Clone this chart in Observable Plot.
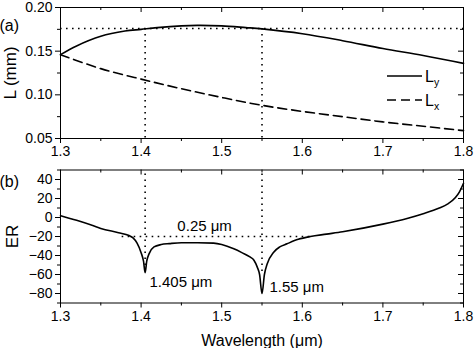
<!DOCTYPE html>
<html>
<head>
<meta charset="utf-8">
<script src="https://cdn.jsdelivr.net/npm/d3@7"></script>
<script src="https://cdn.jsdelivr.net/npm/@observablehq/plot@0.6"></script>
<style>
  html, body { margin: 0; padding: 0; background: #fff; }
  #wrap { position: relative; width: 474px; height: 348px; font-family: "Liberation Sans", Arial, sans-serif; }
  #wrap > * { position: absolute; left: 0; }
</style>
</head>
<body>
<div id="wrap"></div>
<script>
// ---- data ----
const wavelengthLy = [1.30, 1.32, 1.35, 1.38, 1.40, 1.42, 1.45, 1.47, 1.50, 1.53, 1.55, 1.60, 1.65, 1.70, 1.75, 1.80];
const Ly =           [0.146, 0.156, 0.167, 0.173, 0.175, 0.177, 0.179, 0.1795, 0.179, 0.177, 0.1755, 0.170, 0.162, 0.153, 0.145, 0.136];

const wavelengthLx = [1.30, 1.35, 1.40, 1.45, 1.50, 1.55, 1.60, 1.65, 1.70, 1.75, 1.80];
const Lx =           [0.146, 0.130, 0.118, 0.107, 0.097, 0.088, 0.081, 0.075, 0.069, 0.064, 0.059];

const wavelengthER = [1.30, 1.32, 1.34, 1.35, 1.372, 1.385, 1.39, 1.395, 1.40, 1.403, 1.405, 1.407, 1.41, 1.416, 1.425, 1.435, 1.45, 1.47, 1.49, 1.50, 1.515, 1.525, 1.535, 1.54, 1.544, 1.547, 1.550, 1.553, 1.5565, 1.5645, 1.572, 1.581, 1.595, 1.61, 1.63, 1.65, 1.70, 1.73, 1.75, 1.77, 1.78, 1.79, 1.795, 1.80];
const ER =           [2, -3, -8.5, -11.5, -16, -19, -21.5, -27, -37, -46, -58, -46, -38, -31, -28.5, -27.5, -26.5, -26.5, -27, -28.5, -33, -37, -41.5, -45, -52, -60, -80, -60, -48.7, -36.5, -31, -27.7, -23, -20, -17.5, -15, -7, -1, 4, 10, 14, 21, 27, 36];

const resonances = [1.405, 1.55];     // vertical dotted markers
const LyLevel = 0.176;                // horizontal dotted level in (a)
const erLevel = -20;                  // horizontal dotted level in (b)
const bandEdges = [1.3765, 1.611];    // 0.25 µm band at -20
const annotations = [
  {label: "0.25 \u03bcm", x: 1.445, y: -9.5},
  {label: "1.405 \u03bcm", x: 1.4104, y: -68},
  {label: "1.55 \u03bcm", x: 1.5593, y: -73.4}
];

const xMajor = [1.3, 1.4, 1.5, 1.6, 1.7, 1.8];
const xMinor = [1.35, 1.45, 1.55, 1.65, 1.75];
const yaMajor = [0.05, 0.10, 0.15, 0.20];
const yaMinor = [0.075, 0.125, 0.175];
const ybMajor = [-80, -60, -40, -20, 0, 20, 40];
const ybMinor = [-90, -70, -50, -30, -10, 10, 30, 50];

// ---- tables ----
const lyData = wavelengthLy.map((x, i) => ({x, y: Ly[i]}));
const lxData = wavelengthLx.map((x, i) => ({x, y: Lx[i]}));
const erData = wavelengthER.map((x, i) => ({x, y: ER[i]}));

const font = '"Liberation Sans", Arial, sans-serif';
const W = 474, ML = 60, MR = 11;
const PW = W - ML - MR;

// ---- panel (a) ----
const aMT = 7, aMB = 22, aH = 160, aPH = aH - aMT - aMB;
const panelA = Plot.plot({
  width: W, height: aH,
  marginLeft: ML, marginRight: MR, marginTop: aMT, marginBottom: aMB,
  style: {fontFamily: font, fontSize: "14px", color: "#000", background: "transparent", overflow: "visible"},
  x: {domain: [1.3, 1.8]},
  y: {domain: [0.05, 0.20]},
  marks: [
    Plot.axisX({ticks: xMajor, tickSize: 5, tickPadding: 3, tickFormat: d3.format(".1f"), label: null}),
    Plot.axisX({ticks: xMinor, tickSize: 3, text: null, label: null}),
    Plot.ruleX(xMajor, {x: d => d, insetBottom: aPH - 5}),
    Plot.ruleX(xMinor, {x: d => d, insetBottom: aPH - 3}),
    Plot.axisY({ticks: yaMajor, tickSize: 5, tickPadding: 3, tickFormat: d3.format(".2f"), label: null}),
    Plot.axisY({ticks: yaMinor, tickSize: 3, text: null, label: null}),
    Plot.ruleY(yaMajor, {y: d => d, insetLeft: PW - 5}),
    Plot.ruleY(yaMinor, {y: d => d, insetLeft: PW - 3}),
    Plot.ruleY([LyLevel], {y: d => d, x1: 1.3, x2: 1.8, strokeDasharray: "1.6,4.4", strokeWidth: 1.6}),
    Plot.ruleX(resonances, {x: d => d, y1: LyLevel, y2: 0.05, strokeDasharray: "1.6,4.4", strokeWidth: 1.6}),
    Plot.line(lyData, {x: "x", y: "y", curve: "catmull-rom", stroke: "#000", strokeWidth: 1.6}),
    Plot.line(lxData, {x: "x", y: "y", curve: "catmull-rom", stroke: "#000", strokeWidth: 1.6, strokeDasharray: "9,5"}),
    Plot.frame({stroke: "#000"}),
    Plot.text(["L (mm)"], {frameAnchor: "left", dx: -50, rotate: -90, textAnchor: "middle", fontSize: 17, fill: "#000"}),
    Plot.text(["(a)"], {frameAnchor: "top-left", dx: -61, dy: 18, textAnchor: "start", lineAnchor: "middle", fontSize: 16, fill: "#000"})
  ]
});
panelA.style.top = "0px";

// ---- panel (b) ----
const bTop = 160, bMT = 9.5, bMB = 45.5, bH = 188, bPH = bH - bMT - bMB;
const panelB = Plot.plot({
  width: W, height: bH,
  marginLeft: ML, marginRight: MR, marginTop: bMT, marginBottom: bMB,
  style: {fontFamily: font, fontSize: "14px", color: "#000", background: "transparent", overflow: "visible"},
  x: {domain: [1.3, 1.8]},
  y: {domain: [-90, 50]},
  marks: [
    Plot.axisX({ticks: xMajor, tickSize: 5, tickPadding: 3, tickFormat: d3.format(".1f"), label: null}),
    Plot.axisX({ticks: xMinor, tickSize: 3, text: null, label: null}),
    Plot.ruleX(xMajor, {x: d => d, insetBottom: bPH - 5}),
    Plot.ruleX(xMinor, {x: d => d, insetBottom: bPH - 3}),
    Plot.axisY({ticks: ybMajor, tickSize: 5, tickPadding: 3, tickFormat: d3.format("d"), label: null}),
    Plot.axisY({ticks: ybMinor, tickSize: 3, text: null, label: null}),
    Plot.ruleY(ybMajor, {y: d => d, insetLeft: PW - 5}),
    Plot.ruleY(ybMinor, {y: d => d, insetLeft: PW - 3}),
    Plot.ruleY([erLevel], {y: d => d, x1: bandEdges[0], x2: bandEdges[1], strokeDasharray: "1.6,4.4", strokeWidth: 1.6}),
    Plot.ruleX(resonances, {x: d => d, y1: -90, y2: 50, insetTop: -(bTop + bMT - (aH - aMB)), strokeDasharray: "1.6,4.4", strokeWidth: 1.6}),
    Plot.line(erData, {x: "x", y: "y", curve: "monotone-x", stroke: "#000", strokeWidth: 1.6}),
    Plot.frame({stroke: "#000"}),
    Plot.text(annotations, {x: "x", y: "y", text: "label", textAnchor: "start", lineAnchor: "middle", fontSize: 15, fill: "#000"}),
    Plot.text(["ER"], {frameAnchor: "left", dx: -48, rotate: -90, textAnchor: "middle", fontSize: 17, fill: "#000"}),
    Plot.text(["(b)"], {frameAnchor: "top-left", dx: -61, dy: 12, textAnchor: "start", lineAnchor: "middle", fontSize: 16, fill: "#000"}),
    Plot.text(["Wavelength (\u03bcm)"], {frameAnchor: "bottom", dy: 37.5, lineAnchor: "middle", fontSize: 16, fill: "#000"})
  ]
});
panelB.style.top = bTop + "px";

// ---- legend (panel a, inside) ----
const ns = "http://www.w3.org/2000/svg";
const leg = document.createElementNS(ns, "svg");
leg.setAttribute("width", 474); leg.setAttribute("height", 160);
leg.style.top = "0px";
leg.style.pointerEvents = "none";
const legendItems = [{name: "y", dash: null, cy: 76}, {name: "x", dash: "9,5", cy: 100}];
legendItems.forEach(it => {
  const l = document.createElementNS(ns, "line");
  l.setAttribute("x1", 387); l.setAttribute("x2", 422);
  l.setAttribute("y1", it.cy); l.setAttribute("y2", it.cy);
  l.setAttribute("stroke", "#000"); l.setAttribute("stroke-width", 1.6);
  if (it.dash) l.setAttribute("stroke-dasharray", it.dash);
  leg.appendChild(l);
  const t = document.createElementNS(ns, "text");
  t.setAttribute("x", 425); t.setAttribute("y", it.cy + 6);
  t.setAttribute("font-family", font); t.setAttribute("font-size", 16);
  t.textContent = "L";
  const s = document.createElementNS(ns, "tspan");
  s.setAttribute("dy", 4); s.setAttribute("font-size", 10.5);
  s.textContent = it.name;
  t.appendChild(s);
  leg.appendChild(t);
});

const wrap = document.getElementById("wrap");
wrap.appendChild(panelA);
wrap.appendChild(panelB);
wrap.appendChild(leg);
</script>
</body>
</html>
